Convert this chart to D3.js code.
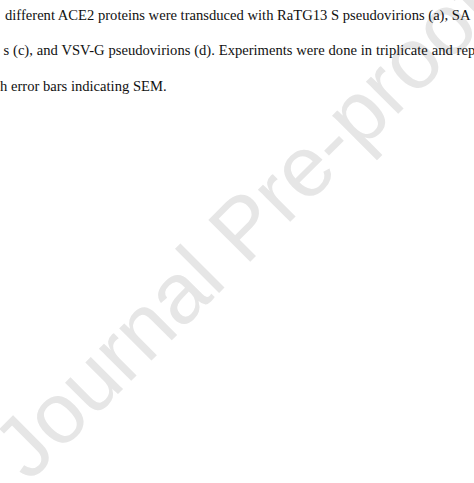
<!DOCTYPE html>
<html>
<head>
<meta charset="utf-8">
<script src="https://cdn.jsdelivr.net/npm/d3@7"></script>
<style>
  html, body { margin: 0; padding: 0; background: #fff; overflow: hidden; }
</style>
</head>
<body>
<svg id="page"></svg>
<script>
// caption text, one entry per visible line
const captionLines = [
  'different ACE2 proteins were transduced with RaTG13 S pseudovirions (a), SA',
  's (c), and VSV-G pseudovirions (d). Experiments were done in triplicate and rep',
  'h error bars indicating SEM.'
];
const watermarkText = 'Journal Pre-proof';

const width = 474;
const height = 483;

// layout (not data): the caption is justified, so line 2 gets wider word gaps
const lineIndent = [5, 3.5, 0];
const lineWordSpacing = [0, 0.2, 0];
const lineTop = 20;
const lineGap = 35.4;

const svg = d3.select('#page')
  .attr('width', width)
  .attr('height', height);

svg.append('rect')
  .attr('width', width)
  .attr('height', height)
  .attr('fill', '#fff');

// watermark first, so the caption sits on top of it
svg.append('text')
  .attr('transform', 'translate(29,483) rotate(-45)')
  .attr('font-family', '"Liberation Sans", Arial, sans-serif')
  .attr('font-size', 86)
  .attr('fill', '#e6e6e6')
  .text(watermarkText);

const y = d3.scaleLinear()
  .domain([0, 1])
  .range([lineTop, lineTop + lineGap]);

svg.selectAll('text.caption')
  .data(captionLines)
  .enter()
  .append('text')
  .attr('class', 'caption')
  .attr('x', (d, i) => lineIndent[i])
  .attr('y', (d, i) => y(i))
  .attr('word-spacing', (d, i) => lineWordSpacing[i])
  .attr('font-family', '"Liberation Serif", "Times New Roman", serif')
  .attr('font-size', 14.6)
  .attr('fill', '#111')
  .text(d => d);
</script>
</body>
</html>
